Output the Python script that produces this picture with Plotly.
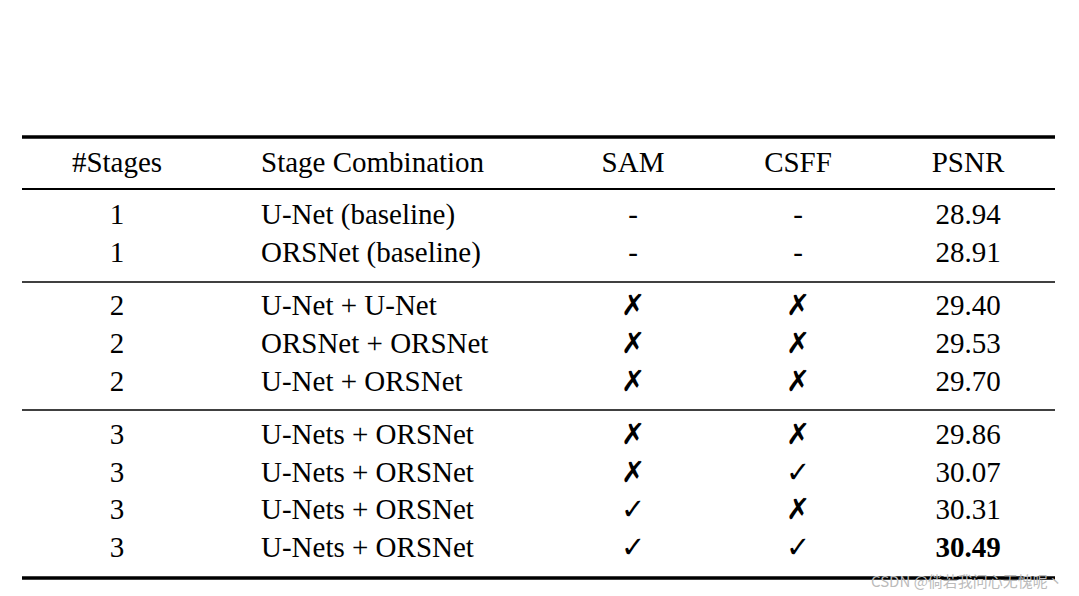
import plotly.graph_objects as go

header = ["#Stages", "Stage Combination", "SAM", "CSFF", "PSNR"]
stages = ["1", "1", "2", "2", "2", "3", "3", "3", "3"]
combos = ["U-Net (baseline)", "ORSNet (baseline)", "U-Net + U-Net", "ORSNet + ORSNet",
          "U-Net + ORSNet", "U-Nets + ORSNet", "U-Nets + ORSNet", "U-Nets + ORSNet", "U-Nets + ORSNet"]
sam = ["-", "-", "✗", "✗", "✗", "✗", "✗", "✓", "✓"]
csff = ["-", "-", "✗", "✗", "✗", "✗", "✓", "✗", "✓"]
psnr = ["28.94", "28.91", "29.40", "29.53", "29.70", "29.86", "30.07", "30.31", "<b>30.49</b>"]

dx, dy = -8, -6
row_y = [v + dy for v in [215, 253, 306, 344, 382, 435, 473, 510, 548]]
col_x = [v + dx for v in [117, 261, 633, 798, 968]]
font = dict(family="Liberation Serif, Times New Roman, serif", size=29, color="black")

fig = go.Figure()
fig.add_trace(go.Scatter(x=[col_x[0], col_x[2], col_x[3], col_x[4]], y=[163 + dy] * 4, mode="text",
                         text=[header[0], header[2], header[3], header[4]], textfont=font,
                         textposition="middle center", hoverinfo="skip"))
fig.add_trace(go.Scatter(x=[col_x[1]], y=[163 + dy], mode="text", text=[header[1]], textfont=font,
                         textposition="middle right", hoverinfo="skip"))
for i, col in enumerate([stages, sam, csff, psnr]):
    xi = [0, 2, 3, 4][i]
    fig.add_trace(go.Scatter(x=[col_x[xi]] * len(col), y=row_y, mode="text", text=col,
                             textfont=font, textposition="middle center", hoverinfo="skip"))
fig.add_trace(go.Scatter(x=[col_x[1]] * len(combos), y=row_y, mode="text", text=combos,
                         textfont=font, textposition="middle right", hoverinfo="skip"))

for y, w in [(135, 3.5), (187, 1.8), (280, 1.3), (408, 1.3), (576, 3.5)]:
    fig.add_shape(type="line", x0=22 + dx, x1=1055 + dx, y0=y + dy, y1=y + dy,
                  line=dict(color="black", width=w))

fig.add_annotation(x=-4, y=26, text="Table 6:   Ablation  study  on  individual  components  of  the",
                   showarrow=False, xanchor="left", yanchor="middle",
                   font=dict(family="Liberation Serif, serif", size=41, color="black"))
fig.add_annotation(x=-4, y=81, text="proposed MPRNet.", showarrow=False, xanchor="left",
                   yanchor="middle", font=dict(family="Liberation Serif, serif", size=41, color="black"))
fig.add_annotation(x=1057, y=572, text="CSDN @倘若我问心无愧呢丶", showarrow=False, xanchor="right",
                   yanchor="middle", font=dict(family="Noto Sans CJK SC", size=15, color="#bbbbbb"))

fig.update_layout(width=1079, height=596, margin=dict(l=0, r=0, t=0, b=0),
                  plot_bgcolor="white", paper_bgcolor="white", showlegend=False,
                  xaxis=dict(range=[0, 1079], visible=False),
                  yaxis=dict(range=[596, 0], visible=False))
fig.write_html("out.html")
